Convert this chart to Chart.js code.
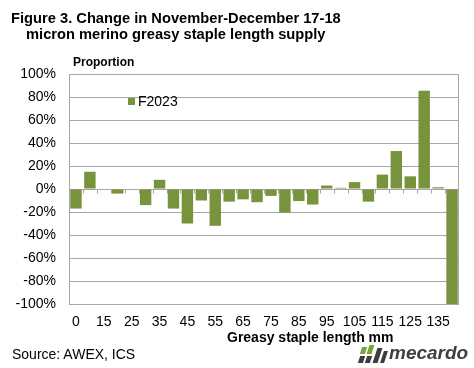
<!DOCTYPE html>
<html>
<head>
<meta charset="utf-8">
<script src="https://cdn.jsdelivr.net/npm/chart.js@4"></script>
<style>
body { margin: 0; background: #fff; font-family: Arial, "Liberation Sans", sans-serif; }
#wrap { position: relative; width: 474px; height: 368px; overflow: hidden; }
#wrap canvas { position: absolute; left: 0; top: 0; }
.t { position: absolute; white-space: nowrap; color: #000; line-height: 1; }
.b { font-weight: bold; }
.logo-bar { position: absolute; transform: skewX(-18deg); }
</style>
</head>
<body>
<div id="wrap">
    <canvas id="chart" width="474" height="368"></canvas>
    <div class="t b" style="left:11px; top:11px; font-size:14.7px;">Figure 3. Change in November-December 17-18</div>
    <div class="t b" style="left:26px; top:27px; font-size:14.7px;">micron merino greasy staple length supply</div>
    <div class="t b" style="left:73px; top:56px; font-size:12px;">Proportion</div>
    <div style="position:absolute; left:128px; top:98px; width:7px; height:7px; background:#77933c;"></div>
    <div class="t" style="left:138px; top:94px; font-size:14px;">F2023</div>
    <div class="t b" style="left:227px; top:330px; font-size:14px;">Greasy staple length mm</div>
    <div class="t" style="left:12px; top:347px; font-size:14px;">Source: AWEX, ICS</div>
    <div class="logo-bar" style="left:361px; top:347px; width:5px; height:7px; background:#7aa33a;"></div>
    <div class="logo-bar" style="left:368px; top:345px; width:5px; height:9px; background:#7aa33a;"></div>
    <div class="logo-bar" style="left:359px; top:356px; width:5px; height:7px; background:#3d3d3d;"></div>
    <div class="logo-bar" style="left:366px; top:356px; width:5px; height:7px; background:#3d3d3d;"></div>
    <div class="logo-bar" style="left:375px; top:348px; width:5px; height:15px; background:#3d3d3d;"></div>
    <div class="logo-bar" style="left:382px; top:351px; width:4px; height:12px; background:#3d3d3d;"></div>
    <div class="t b" style="left:389px; top:343px; font-size:19px; font-style:italic; color:#404040;">mecardo</div>
</div>
<script>
// Greasy staple length (mm) categories, every other one is labelled
const lengths = ['0', '10', '15', '20', '25', '30', '35', '40', '45', '50', '55', '60', '65', '70',
    '75', '80', '85', '90', '95', '100', '105', '110', '115', '120', '125', '130', '135', '140'];

// Change in supply, F2023 (%)
const changeF2023 = [-17, 15, 0, -4, 0, -14, 8, -17, -30, -10, -32, -11, -9, -11.5,
    -6, -20.5, -10.5, -13.5, 3, 1, 6, -11, 12.5, 33, 11, 85.5, 1.5, -100];

const yMin = -100;
const yMax = 100;
const yStep = 20;

const green = '#77933c';
const gridColour = '#a6a6a6';

// right-hand frame line and the little tick marks on the zero line
const frameAndTicks = {
    id: 'frameAndTicks',
    beforeDatasetsDraw(chart) {
        const { ctx, chartArea: a, scales: { y } } = chart;
        const y0 = Math.round(y.getPixelForValue(0)) + 0.5;
        const step = (a.right - a.left) / lengths.length;
        ctx.save();
        ctx.strokeStyle = gridColour;
        ctx.lineWidth = 1;
        ctx.beginPath();
        const xr = Math.round(a.right) - 0.5;
        ctx.moveTo(xr, a.top);
        ctx.lineTo(xr, a.bottom);
        for (let i = 1; i < lengths.length; i++) {
            const px = Math.round(a.left + i * step) + 0.5;
            ctx.moveTo(px, y0);
            ctx.lineTo(px, y0 + 4);
        }
        ctx.stroke();
        ctx.restore();
    }
};

const ctx = document.getElementById('chart').getContext('2d');
new Chart(ctx, {
    type: 'bar',
    data: {
        labels: lengths,
        datasets: [{
            label: 'F2023',
            data: changeF2023,
            backgroundColor: green,
            borderWidth: 0,
            barPercentage: 0.82,
            categoryPercentage: 1
        }]
    },
    options: {
        responsive: false,
        animation: false,
        layout: { padding: { top: 74, left: 0, right: 15, bottom: 0 } },
        plugins: {
            legend: { display: false },
            title: { display: false },
            tooltip: { enabled: false }
        },
        scales: {
            x: {
                grid: { display: false, drawTicks: false },
                border: { display: false },
                afterFit: s => { s.height = 64; },
                ticks: {
                    autoSkip: false,
                    maxRotation: 0,
                    padding: 10,
                    color: '#000',
                    font: { family: 'Arial, "Liberation Sans"', size: 14 },
                    callback: (v, i) => (i % 2 === 0 ? lengths[i] : '')
                }
            },
            y: {
                min: yMin,
                max: yMax,
                afterFit: s => { s.width = 69; },
                grid: { color: gridColour, drawTicks: false },
                border: { color: gridColour },
                ticks: {
                    stepSize: yStep,
                    padding: 13,
                    color: '#000',
                    font: { family: 'Arial, "Liberation Sans"', size: 14 },
                    callback: v => v + '%'
                }
            }
        }
    },
    plugins: [frameAndTicks]
});
</script>
</body>
</html>
